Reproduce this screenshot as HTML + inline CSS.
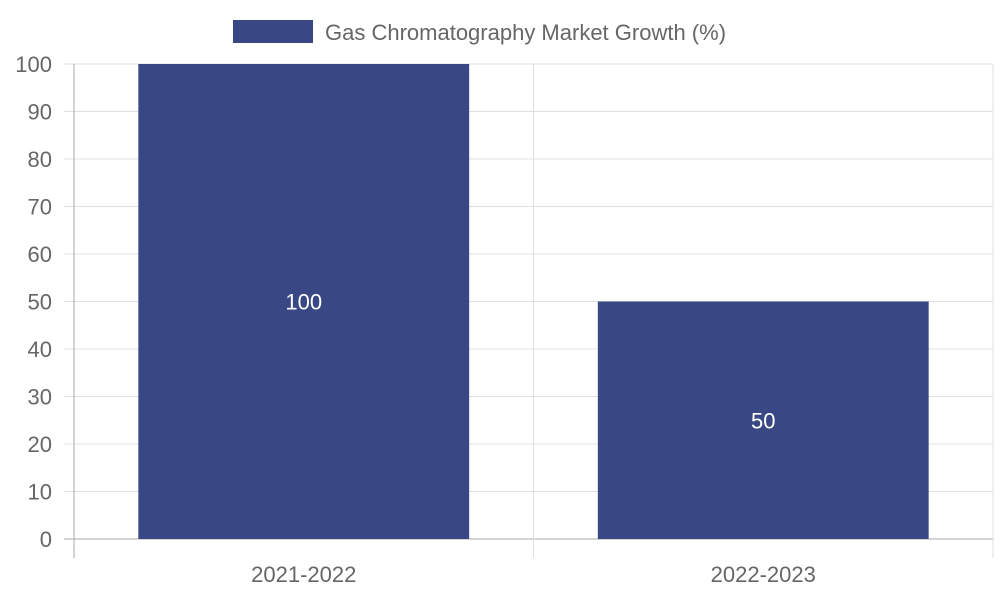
<!DOCTYPE html>
<html><head><meta charset="utf-8"><style>
html,body{margin:0;padding:0;background:#fff;}
svg{display:block;font-family:"Liberation Sans",Arial,sans-serif;}
</style></head><body>
<svg id="chart" width="1000" height="600">
<g id="legend">
<rect x="233" y="20" width="80" height="23" fill="#394884"/>
<text x="325" y="40" font-size="22" fill="#666">Gas Chromatography Market Growth (%)</text>
</g>
<g id="grid"></g><g id="bars"></g><g id="labels"></g>
</svg>
<script>
const categories = ["2021-2022", "2022-2023"];
const values = [100, 50];
const yTicks = [0,10,20,30,40,50,60,70,80,90,100];
const NS="http://www.w3.org/2000/svg";
const L=74,R=993,T=64,B=539,yMax=100;
const y=v=>B-(v/yMax)*(B-T);
const cw=(R-L)/categories.length;
const x=i=>L+cw*i;
function mk(tag,attrs,parent){const e=document.createElementNS(NS,tag);for(const k in attrs)e.setAttribute(k,attrs[k]);parent.appendChild(e);return e;}
const grid=document.getElementById('grid'),bars=document.getElementById('bars'),labels=document.getElementById('labels');
yTicks.forEach(t=>{
  const ln=mk('line',{x1:L-10,x2:R,y1:y(t),y2:y(t),stroke:t===0?'#aaa':'#e0e0e0','stroke-width':1},grid);
  
  
  const tx=mk('text',{x:L-22,y:y(t)+8,'text-anchor':'end','font-size':22,fill:'#666'},grid);
  tx.textContent=t;
  
  
});
for(let i=0;i<=categories.length;i++){
  const ln=mk('line',{x1:x(i),x2:x(i),y1:T,y2:B+19,stroke:i===0?'#aaa':'#e0e0e0','stroke-width':1},grid);
  
  
}
categories.forEach((c,i)=>{
  const bw=cw*0.72,bx=x(i)+(cw-bw)/2,v=values[i];
  const r=mk('rect',{x:bx,y:y(v),width:bw,height:B-y(v),fill:'#394884'},bars);
  
  
  const vt=mk('text',{x:bx+bw/2,y:(y(v)+B)/2+8,'text-anchor':'middle','font-size':22,fill:'#fff'},labels);
  vt.textContent=v;
  
  
  const ct=mk('text',{x:x(i)+cw/2,y:582,'text-anchor':'middle','font-size':22,fill:'#666'},labels);
  ct.textContent=c;
  
  
});
</script>
</body></html>
